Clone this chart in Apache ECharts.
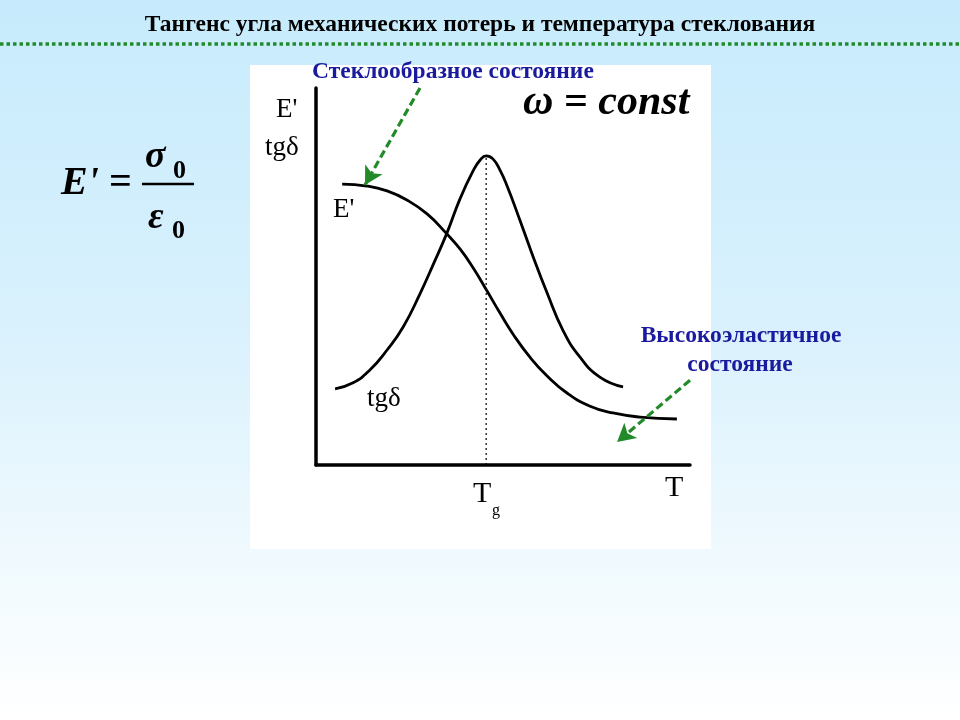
<!DOCTYPE html>
<html>
<head>
<meta charset="utf-8">
<script src="https://cdn.jsdelivr.net/npm/echarts@6/dist/echarts.min.js"></script>
<style>
  html, body { margin: 0; padding: 0; width: 960px; height: 720px; overflow: hidden; }
  #chart { width: 960px; height: 720px; }
</style>
</head>
<body>
<div id="chart"></div>
<script>
// ---- data (T and values on a 0–100 relative scale) ----
const eT   = [7.0, 13.6, 19.0, 24.3, 29.7, 34.8, 38.5, 42.0, 45.7, 49.2, 52.7, 57.2, 61.8, 67.1, 73.3, 79.4, 86.6, 96.5];
const eVal = [74.5, 74.0, 72.7, 70.3, 66.6, 61.5, 57.3, 52.3, 46.2, 40.3, 34.7, 28.6, 23.6, 19.1, 15.6, 13.8, 12.7, 12.2];
const tgT   = [5.1, 9.9, 14.4, 19.0, 23.3, 27.8, 31.3, 35.0, 38.5, 42.0, 43.9, 45.5, 47.3, 49.2, 51.1, 54.5, 58.0, 61.8, 66.0, 70.6, 75.9, 82.1];
const tgVal = [20.2, 21.8, 25.2, 30.5, 36.6, 45.4, 53.1, 61.5, 70.6, 78.0, 80.9, 82.0, 81.2, 78.2, 74.0, 65.0, 55.4, 45.6, 35.8, 28.6, 23.3, 20.7];
const tgPeakT = 45.5;
const tgPeakVal = 82.0;
// annotation arrows: [startT, startVal, endT, endVal]
const arrowGlass = [27.8, 100, 13.1, 74.3];
const arrowRubber = [100, 22.5, 80.5, 6.1];

const titleText = 'Тангенс угла механических потерь и температура стеклования';
const glassText = 'Стеклообразное состояние';
const rubberText1 = 'Высокоэластичное';
const rubberText2 = 'состояние';

const zip = (xs, ys) => xs.map((x, i) => [x, ys[i]]);

const GREEN = '#238a2a';
const BLUE = '#1a1a9e';
const SERIF = '"Liberation Serif", "Times New Roman", serif';

const chart = echarts.init(document.getElementById('chart'), null, { renderer: 'canvas' });

const txt = (text, x, y, font, fill, align) => ({
  type: 'text', z: 100,
  style: { text, x, y, font, fill: fill || '#000', align: align || 'left', verticalAlign: 'middle' }
});

chart.setOption({
  animation: false,
  backgroundColor: 'transparent',
  grid: { left: 316, right: 270, top: 88, bottom: 255 },
  xAxis: {
    type: 'value', min: 0, max: 100,
    axisLine: { show: true, lineStyle: { color: '#000', width: 3.5 } },
    axisTick: { show: false }, axisLabel: { show: false }, splitLine: { show: false }
  },
  yAxis: {
    type: 'value', min: 0, max: 100,
    axisLine: { show: true, lineStyle: { color: '#000', width: 3.5 } },
    axisTick: { show: false }, axisLabel: { show: false }, splitLine: { show: false }
  },
  graphic: {
    elements: [
      { type: 'rect', z: -20, shape: { x: 0, y: 0, width: 960, height: 720 },
        style: { fill: new echarts.graphic.LinearGradient(0, 0, 0, 1, [
          { offset: 0, color: '#c7ebfc' },
          { offset: 0.45, color: '#d9f1fd' },
          { offset: 0.75, color: '#eef9fe' },
          { offset: 1, color: '#ffffff' }
        ]) } },
      { type: 'rect', z: -10, shape: { x: 250, y: 65, width: 461, height: 484 }, style: { fill: '#ffffff' } },
      { type: 'line', z: 50, shape: { x1: 0, y1: 44, x2: 960, y2: 44 },
        style: { stroke: GREEN, lineWidth: 3.5, lineDash: [3.5, 3] } },
      txt(titleText, 480, 25, 'bold 23.5px ' + SERIF, '#000', 'center'),
      txt(glassText, 312, 72, 'bold 23.5px ' + SERIF, BLUE),
      txt(rubberText1, 741, 336, 'bold 23.5px ' + SERIF, BLUE, 'center'),
      txt(rubberText2, 740, 365, 'bold 23.5px ' + SERIF, BLUE, 'center'),
      txt('\u03c9 = const', 523, 103, 'italic bold 42px ' + SERIF),
      // axis captions
      txt("E'", 276, 110, '27px ' + SERIF),
      txt('tg\u03b4', 265, 148, '27px ' + SERIF),
      txt("E'", 333, 210, '27px ' + SERIF),
      txt('tg\u03b4', 367, 399, '27px ' + SERIF),
      txt('T', 665, 488, '30px ' + SERIF),
      txt('T', 473, 494, '30px ' + SERIF),
      txt('g', 492, 511, '16px ' + SERIF),
      // formula
      txt("E' =", 61, 184, 'italic bold 40px ' + SERIF),
      { type: 'line', z: 100, shape: { x1: 142, y1: 184, x2: 194, y2: 184 }, style: { stroke: '#000', lineWidth: 2.5 } },
      txt('\u03c3', 145, 157, 'italic bold 38px ' + SERIF),
      txt('0', 173, 171, 'bold 26px ' + SERIF),
      txt('\u03b5', 148, 218, 'italic bold 38px ' + SERIF),
      txt('0', 172, 231, 'bold 26px ' + SERIF)
    ]
  },
  series: [
    {
      name: "E'", type: 'line', data: zip(eT, eVal), smooth: 0.5, symbol: 'none',
      lineStyle: { color: '#000', width: 2.8 }, z: 3,
      markLine: {
        silent: true, animation: false,
        symbol: ['none', 'arrow'], symbolSize: [15, 18],
        label: { show: false },
        lineStyle: { color: GREEN, width: 3.2, type: [8, 4] },
        data: [
          [{ coord: [arrowGlass[0], arrowGlass[1]] }, { coord: [arrowGlass[2], arrowGlass[3]] }],
          [{ coord: [arrowRubber[0], arrowRubber[1]] }, { coord: [arrowRubber[2], arrowRubber[3]] }]
        ]
      }
    },
    {
      name: 'tgδ', type: 'line', data: zip(tgT, tgVal), smooth: 0.5, symbol: 'none',
      lineStyle: { color: '#000', width: 2.8 }, z: 3
    },
    {
      name: 'Tg', type: 'line', data: [[tgPeakT, 0], [tgPeakT, tgPeakVal]], symbol: 'none',
      lineStyle: { color: '#000', width: 1.2, type: [2, 3] }, z: 2
    }
  ]
});
</script>
</body>
</html>
